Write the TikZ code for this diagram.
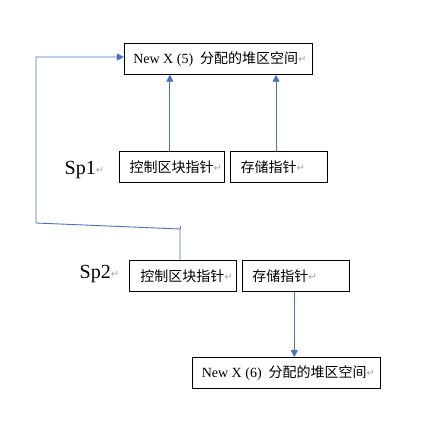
\documentclass[tikz,border=0pt]{standalone}
\usepackage{fontspec}
\setmainfont{Liberation Serif}
\newfontfamily\cjk{Noto Sans CJK SC}
\newfontfamily\symf{DejaVu Sans}
\usetikzlibrary{arrows.meta}
\definecolor{wblue}{HTML}{4472C4}
\newcommand{\pmark}{\raisebox{0.5pt}{\color{gray!70}\symf\fontsize{10}{10}\selectfont ↵}}
\newcommand{\boxtext}[2]{\makebox[#1][l]{#2}}
\tikzset{
  box/.style={draw=black, line width=0.8pt, minimum height=31pt, inner ysep=0pt, font=\fontsize{14}{16}\selectfont},
  conn/.style={draw=wblue, line width=0.9pt},
  arr/.style={conn, -{Triangle[length=7pt,width=7pt]}},
  splabel/.style={anchor=west, inner sep=0pt, font=\fontsize{20}{22}\selectfont}
}
\begin{document}
\begin{tikzpicture}[x=1pt,y=-1pt]
\useasboundingbox (0,0) rectangle (432,440);
% top heap box
\node[box, inner xsep=9pt] (A) at (218.5,58.8) {\boxtext{170.4pt}{New X (5)\ \ {\cjk 分配的堆区空间}\pmark}};
% Sp1
\node[box, inner xsep=10pt] (c1) at (171.85,166.7) {\boxtext{84.3pt}{{\cjk 控制区块指针}\pmark}};
\node[box, inner xsep=10.5pt] (s1) at (278.65,166.7) {\boxtext{76.3pt}{{\cjk 存储指针}\pmark}};
\node[splabel] (sp1) at (64.5,170) {Sp1\pmark};
% Sp2
\node[box, inner xsep=11pt] (c2) at (183,276) {\boxtext{85.4pt}{{\cjk 控制区块指针}\pmark}};
\node[box, inner xsep=10pt] (s2) at (295.8,276) {\boxtext{87pt}{{\cjk 存储指针}\pmark}};
\node[splabel] (sp2) at (79.5,274) {Sp2\pmark};
% bottom heap box
\node[box, inner xsep=9.5pt] (B) at (286.5,373) {\boxtext{169.4pt}{New X (6)\ \ {\cjk 分配的堆区空间}\pmark}};
% connectors
\draw[arr] ([xshift=-2pt]c1.north) -- ([xshift=-2pt]c1.north |- A.south);
\draw[arr] ([xshift=-2.6pt]s1.north) -- ([xshift=-2.6pt]s1.north |- A.south);
\coordinate (k1) at (180,229);
\coordinate (k2) at (36,223);
\coordinate (k3) at (36,57);
\draw[arr] (c2.north -| k1) -- (k1) -- (k2) -- (k3) -- (k3 -| A.west);
\draw[conn] (k1) -- ++(0,-3);
\draw[arr] ([xshift=-1.5pt]s2.south) -- ([xshift=-1.5pt]s2.south |- B.north);
\end{tikzpicture}
\end{document}
